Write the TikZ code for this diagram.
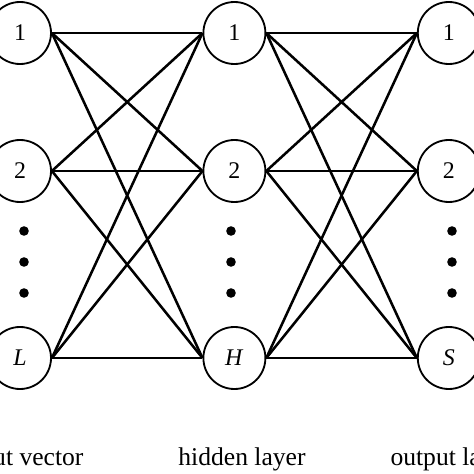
\documentclass[tikz,border=0pt]{standalone}
\usepackage{fontspec}
\setmainfont{Liberation Serif}
\usetikzlibrary{positioning}
\tikzset{
    neuron/.style = {draw, circle, line width=1.3pt,
        minimum size=1.55cm, inner sep=0pt,
        font=\fontsize{17}{17}\selectfont},
    layerlabel/.style = {anchor=base, font=\fontsize{18.2}{18.2}\selectfont},
    vdot/.style = {fill, circle, inner sep=0pt, minimum size=0.24cm},
    link/.style = {draw, line width=1.8pt}
}

\begin{document}
\begin{tikzpicture}[node distance=5.36cm]
    \clip (0,0) rectangle (11.85,11.85);
    % input vector
    \node [neuron] (in1) at (0.5,11.025) {1};
    \node [neuron] (in2) at (0.5,7.575) {2};
    \node [neuron] (inL) at (0.5,2.9) {\textit{L}};
    % hidden layer
    \node [neuron, right of=in1] (hid1) {1};
    \node [neuron, right of=in2] (hid2) {2};
    \node [neuron, right of=inL] (hidH) {\textit{H}};
    % output layer
    \node [neuron, right of=hid1] (out1) {1};
    \node [neuron, right of=hid2] (out2) {2};
    \node [neuron, right of=hidH] (outS) {\textit{S}};
    % full connections
    \foreach \a in {in1,in2,inL}
        \foreach \b in {hid1,hid2,hidH}
            \draw [link] (\a.east) -- (\b.west);
    \foreach \a in {hid1,hid2,hidH}
        \foreach \b in {out1,out2,outS}
            \draw [link] (\a.east) -- (\b.west);
    % vertical dots
    \foreach \y [count=\i] in {6.075,5.3,4.525} {
        \node [vdot] (dotin\i) at (0.6,\y) {};
        \node [vdot] (dothid\i) at (5.775,\y) {};
        \node [vdot] (dotout\i) at (11.3,\y) {};
    }
    % layer names
    \node [layerlabel] (lblin) at (0.55,0.225) {input vector};
    \node [layerlabel] (lblhid) at (6.05,0.225) {hidden layer};
    \node [layerlabel] (lblout) at (11.3,0.225) {output layer};
\end{tikzpicture}
\end{document}
